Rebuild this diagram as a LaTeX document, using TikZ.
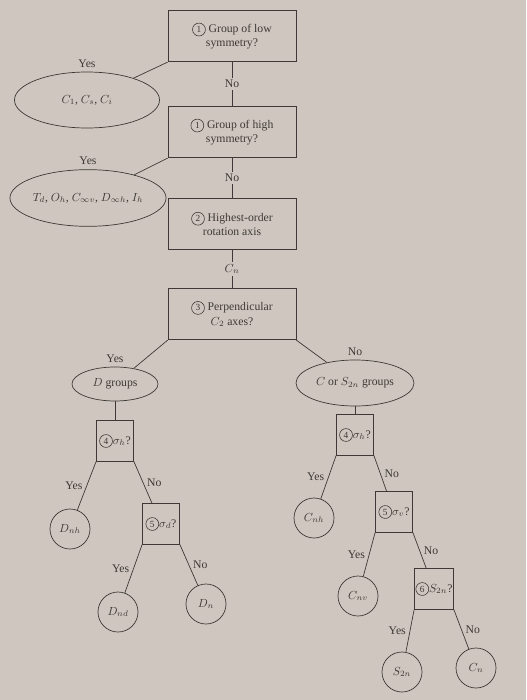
\documentclass[tikz,border=0pt]{standalone}
\usepackage{fontspec}
\setmainfont{Liberation Serif}
\usetikzlibrary{shapes.geometric}
\definecolor{paper}{RGB}{207,199,191}
\definecolor{ink}{RGB}{62,57,54}
\newcommand{\stepnum}[1]{\tikz[baseline=(n.base)]\node[circle,draw=ink,line width=0.5pt,inner sep=0.5pt,minimum size=11pt,font=\footnotesize](n){#1};}

\begin{document}
\begin{tikzpicture}
    [x=0.03cm,y=-0.03cm,line width=0.6pt,color=ink,
      question/.style={rectangle,draw,align=center,minimum width=3.84cm,minimum height=1.55cm},
      test/.style={rectangle,draw,inner sep=1pt,minimum width=1.12cm,minimum height=1.22cm},
      family/.style={ellipse,draw,inner sep=0pt,label distance=1pt},
      group/.style={circle,draw,minimum size=1.2cm,inner sep=0pt},
      answer/.style={fill=paper,inner sep=1.5pt}
    ]
    \fill [paper] (0,0) rectangle (526,700);
    \node [question] (low) at (232,36) {\stepnum{1} Group of low\\ symmetry?};
    \node [question] (high) at (232,132) {\stepnum{1} Group of high\\ symmetry?};
    \node [question] (axis) at (232,224) {\stepnum{2} Highest-order\\ rotation axis};
    \node [question] (perp) at (232,314) {\stepnum{3} Perpendicular\\ $C_2$ axes?};
    \node [family,minimum width=4.35cm,minimum height=1.68cm,label=above:Yes] (lowgroups) at (87,100) {$C_1$, $C_s$, $C_i$};
    \node [family,minimum width=4.26cm,minimum height=1.7cm,label=above:Yes] (highgroups) at (88,198) {$T_d$, $O_h$, $C_{\infty v}$, $D_{\infty h}$, $I_h$};
    \node [family,minimum width=2.58cm,minimum height=1.02cm,label=above:Yes] (dgroups) at (115,384) {$D$ groups};
    \node [family,minimum width=3.54cm,minimum height=1.38cm,label=above:No] (cgroups) at (355,383) {$C$ or $S_{2n}$ groups};
    \node [test] (dsh) at (115,441) {\stepnum{4}$\sigma_h$?};
    \node [test] (dsd) at (161,524) {\stepnum{5}$\sigma_d$?};
    \node [test] (csh) at (355,435) {\stepnum{4}$\sigma_h$?};
    \node [test] (csv) at (394,512) {\stepnum{5}$\sigma_v$?};
    \node [test] (cs2n) at (434,589) {\stepnum{6}$S_{2n}$?};
    \node [group] (dnh) at (70,529) {$D_{nh}$};
    \node [group] (dnd) at (118,612) {$D_{nd}$};
    \node [group] (dn) at (206,604) {$D_n$};
    \node [group] (cnh) at (314,518) {$C_{nh}$};
    \node [group] (cnv) at (358,596) {$C_{nv}$};
    \node [group] (s2n) at (402,672) {$S_{2n}$};
    \node [group] (cn) at (476,668) {$C_n$};
    \draw (low) -- node [answer] {No} (high);
    \draw (high) -- node [answer] {No} (axis);
    \draw (axis) -- node [answer] {$C_n$} (perp);
    \draw (low.south west) -- (lowgroups);
    \draw (high.south west) -- (highgroups);
    \draw (perp.south west) -- (dgroups);
    \draw (perp.south east) -- (cgroups);
    \draw (dgroups) -- (dsh);
    \draw (cgroups) -- (csh);
    \draw (dsh.south west) -- node [left] {Yes} (dnh);
    \draw (dsh.south east) -- node [right] {No} (dsd);
    \draw (dsd.south west) -- node [left] {Yes} (dnd);
    \draw (dsd.south east) -- node [right] {No} (dn);
    \draw (csh.south west) -- node [left] {Yes} (cnh);
    \draw (csh.south east) -- node [right] {No} (csv);
    \draw (csv.south west) -- node [left] {Yes} (cnv);
    \draw (csv.south east) -- node [right] {No} (cs2n);
    \draw (cs2n.south west) -- node [left] {Yes} (s2n);
    \draw (cs2n.south east) -- node [right] {No} (cn);
  \end{tikzpicture}
\end{document}
